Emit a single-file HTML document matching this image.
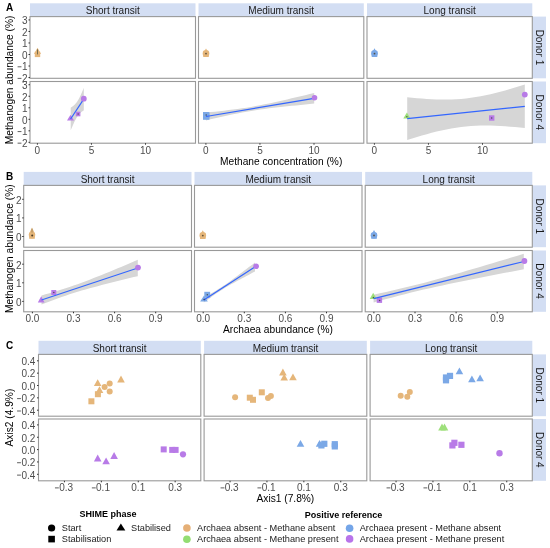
<!DOCTYPE html><html><head><meta charset="utf-8"><style>html,body{margin:0;padding:0;background:#fff;width:550px;height:548px;overflow:hidden}svg{display:block;will-change:transform}text{font-family:"Liberation Sans",sans-serif}</style></head><body><svg width="550" height="548" viewBox="0 0 550 548" font-family="Liberation Sans">
<rect width="550" height="548" fill="#fff"/>
<text x="6.00" y="10.80" font-size="10" fill="#000" text-anchor="start" font-weight="bold" >A</text>
<rect x="30.00" y="3.30" width="165.50" height="13.30" fill="#D3DEF3" />
<text x="112.75" y="14.10" font-size="10" fill="#1A1A1A" text-anchor="middle" font-weight="normal" >Short transit</text>
<rect x="198.50" y="3.30" width="165.30" height="13.30" fill="#D3DEF3" />
<text x="281.15" y="14.10" font-size="10" fill="#1A1A1A" text-anchor="middle" font-weight="normal" >Medium transit</text>
<rect x="367.00" y="3.30" width="165.30" height="13.30" fill="#D3DEF3" />
<text x="449.65" y="14.10" font-size="10" fill="#1A1A1A" text-anchor="middle" font-weight="normal" >Long transit</text>
<rect x="532.30" y="16.60" width="13.70" height="61.70" fill="#D3DEF3" />
<text x="535.60" y="47.45" font-size="10" fill="#1A1A1A" text-anchor="middle" transform="rotate(90 539.20 47.45) translate(3.6 3.6)">Donor 1</text>
<rect x="532.30" y="81.50" width="13.70" height="61.70" fill="#D3DEF3" />
<text x="535.60" y="112.35" font-size="10" fill="#1A1A1A" text-anchor="middle" transform="rotate(90 539.20 112.35) translate(3.6 3.6)">Donor 4</text>
<rect x="30.00" y="16.60" width="165.50" height="61.70" fill="none" stroke="#999999" stroke-width="1.1"/>
<rect x="198.50" y="16.60" width="165.30" height="61.70" fill="none" stroke="#999999" stroke-width="1.1"/>
<rect x="367.00" y="16.60" width="165.30" height="61.70" fill="none" stroke="#999999" stroke-width="1.1"/>
<rect x="30.00" y="81.50" width="165.50" height="61.70" fill="none" stroke="#999999" stroke-width="1.1"/>
<rect x="198.50" y="81.50" width="165.30" height="61.70" fill="none" stroke="#999999" stroke-width="1.1"/>
<rect x="367.00" y="81.50" width="165.30" height="61.70" fill="none" stroke="#999999" stroke-width="1.1"/>
<line x1="28.50" y1="19.94" x2="30.00" y2="19.94" stroke="#333" stroke-width="1"/>
<text x="27.60" y="24.24" font-size="10" fill="#4D4D4D" text-anchor="end" font-weight="normal" >3</text>
<line x1="28.50" y1="31.46" x2="30.00" y2="31.46" stroke="#333" stroke-width="1"/>
<text x="27.60" y="35.76" font-size="10" fill="#4D4D4D" text-anchor="end" font-weight="normal" >2</text>
<line x1="28.50" y1="42.98" x2="30.00" y2="42.98" stroke="#333" stroke-width="1"/>
<text x="27.60" y="47.28" font-size="10" fill="#4D4D4D" text-anchor="end" font-weight="normal" >1</text>
<line x1="28.50" y1="54.50" x2="30.00" y2="54.50" stroke="#333" stroke-width="1"/>
<text x="27.60" y="58.80" font-size="10" fill="#4D4D4D" text-anchor="end" font-weight="normal" >0</text>
<line x1="28.50" y1="66.02" x2="30.00" y2="66.02" stroke="#333" stroke-width="1"/>
<text x="22.04" y="70.32" font-size="10" fill="#4D4D4D" text-anchor="start" font-weight="normal" >1</text>
<rect x="17.59" y="66.37" width="3.85" height="0.90" fill="#4D4D4D" />
<line x1="28.50" y1="77.54" x2="30.00" y2="77.54" stroke="#333" stroke-width="1"/>
<text x="22.04" y="81.84" font-size="10" fill="#4D4D4D" text-anchor="start" font-weight="normal" >2</text>
<rect x="17.59" y="77.89" width="3.85" height="0.90" fill="#4D4D4D" />
<line x1="28.50" y1="84.74" x2="30.00" y2="84.74" stroke="#333" stroke-width="1"/>
<text x="27.60" y="89.04" font-size="10" fill="#4D4D4D" text-anchor="end" font-weight="normal" >3</text>
<line x1="28.50" y1="96.26" x2="30.00" y2="96.26" stroke="#333" stroke-width="1"/>
<text x="27.60" y="100.56" font-size="10" fill="#4D4D4D" text-anchor="end" font-weight="normal" >2</text>
<line x1="28.50" y1="107.78" x2="30.00" y2="107.78" stroke="#333" stroke-width="1"/>
<text x="27.60" y="112.08" font-size="10" fill="#4D4D4D" text-anchor="end" font-weight="normal" >1</text>
<line x1="28.50" y1="119.30" x2="30.00" y2="119.30" stroke="#333" stroke-width="1"/>
<text x="27.60" y="123.60" font-size="10" fill="#4D4D4D" text-anchor="end" font-weight="normal" >0</text>
<line x1="28.50" y1="130.82" x2="30.00" y2="130.82" stroke="#333" stroke-width="1"/>
<text x="22.04" y="135.12" font-size="10" fill="#4D4D4D" text-anchor="start" font-weight="normal" >1</text>
<rect x="17.59" y="131.17" width="3.85" height="0.90" fill="#4D4D4D" />
<line x1="28.50" y1="142.34" x2="30.00" y2="142.34" stroke="#333" stroke-width="1"/>
<text x="22.04" y="146.64" font-size="10" fill="#4D4D4D" text-anchor="start" font-weight="normal" >2</text>
<rect x="17.59" y="142.69" width="3.85" height="0.90" fill="#4D4D4D" />
<line x1="37.40" y1="143.20" x2="37.40" y2="144.70" stroke="#333" stroke-width="1"/>
<text x="37.40" y="153.90" font-size="10" fill="#4D4D4D" text-anchor="middle" font-weight="normal" >0</text>
<line x1="91.45" y1="143.20" x2="91.45" y2="144.70" stroke="#333" stroke-width="1"/>
<text x="91.45" y="153.90" font-size="10" fill="#4D4D4D" text-anchor="middle" font-weight="normal" >5</text>
<line x1="145.50" y1="143.20" x2="145.50" y2="144.70" stroke="#333" stroke-width="1"/>
<text x="145.50" y="153.90" font-size="10" fill="#4D4D4D" text-anchor="middle" font-weight="normal" >10</text>
<line x1="205.90" y1="143.20" x2="205.90" y2="144.70" stroke="#333" stroke-width="1"/>
<text x="205.90" y="153.90" font-size="10" fill="#4D4D4D" text-anchor="middle" font-weight="normal" >0</text>
<line x1="259.95" y1="143.20" x2="259.95" y2="144.70" stroke="#333" stroke-width="1"/>
<text x="259.95" y="153.90" font-size="10" fill="#4D4D4D" text-anchor="middle" font-weight="normal" >5</text>
<line x1="314.00" y1="143.20" x2="314.00" y2="144.70" stroke="#333" stroke-width="1"/>
<text x="314.00" y="153.90" font-size="10" fill="#4D4D4D" text-anchor="middle" font-weight="normal" >10</text>
<line x1="374.40" y1="143.20" x2="374.40" y2="144.70" stroke="#333" stroke-width="1"/>
<text x="374.40" y="153.90" font-size="10" fill="#4D4D4D" text-anchor="middle" font-weight="normal" >0</text>
<line x1="428.45" y1="143.20" x2="428.45" y2="144.70" stroke="#333" stroke-width="1"/>
<text x="428.45" y="153.90" font-size="10" fill="#4D4D4D" text-anchor="middle" font-weight="normal" >5</text>
<line x1="482.50" y1="143.20" x2="482.50" y2="144.70" stroke="#333" stroke-width="1"/>
<text x="482.50" y="153.90" font-size="10" fill="#4D4D4D" text-anchor="middle" font-weight="normal" >10</text>
<text x="281.15" y="164.80" font-size="10.2" fill="#000" text-anchor="middle" font-weight="normal" >Methane concentration (%)</text>
<text x="13" y="79.90" font-size="10.2" fill="#000" text-anchor="middle" transform="rotate(-90 13 79.90)">Methanogen abundance (%)</text>
<text x="6.00" y="179.80" font-size="10" fill="#000" text-anchor="start" font-weight="bold" >B</text>
<rect x="23.70" y="171.90" width="167.80" height="13.50" fill="#D3DEF3" />
<text x="107.60" y="182.70" font-size="10" fill="#1A1A1A" text-anchor="middle" font-weight="normal" >Short transit</text>
<rect x="194.50" y="171.90" width="167.50" height="13.50" fill="#D3DEF3" />
<text x="278.25" y="182.70" font-size="10" fill="#1A1A1A" text-anchor="middle" font-weight="normal" >Medium transit</text>
<rect x="365.20" y="171.90" width="167.10" height="13.50" fill="#D3DEF3" />
<text x="448.75" y="182.70" font-size="10" fill="#1A1A1A" text-anchor="middle" font-weight="normal" >Long transit</text>
<rect x="532.30" y="185.40" width="13.70" height="61.80" fill="#D3DEF3" />
<text x="535.60" y="216.30" font-size="10" fill="#1A1A1A" text-anchor="middle" transform="rotate(90 539.20 216.30) translate(3.6 3.6)">Donor 1</text>
<rect x="532.30" y="250.50" width="13.70" height="61.30" fill="#D3DEF3" />
<text x="535.60" y="281.15" font-size="10" fill="#1A1A1A" text-anchor="middle" transform="rotate(90 539.20 281.15) translate(3.6 3.6)">Donor 4</text>
<rect x="23.70" y="185.40" width="167.80" height="61.80" fill="none" stroke="#999999" stroke-width="1.1"/>
<rect x="194.50" y="185.40" width="167.50" height="61.80" fill="none" stroke="#999999" stroke-width="1.1"/>
<rect x="365.20" y="185.40" width="167.10" height="61.80" fill="none" stroke="#999999" stroke-width="1.1"/>
<rect x="23.70" y="250.50" width="167.80" height="61.30" fill="none" stroke="#999999" stroke-width="1.1"/>
<rect x="194.50" y="250.50" width="167.50" height="61.30" fill="none" stroke="#999999" stroke-width="1.1"/>
<rect x="365.20" y="250.50" width="167.10" height="61.30" fill="none" stroke="#999999" stroke-width="1.1"/>
<line x1="22.20" y1="199.30" x2="23.70" y2="199.30" stroke="#333" stroke-width="1"/>
<text x="21.60" y="203.60" font-size="10" fill="#4D4D4D" text-anchor="end" font-weight="normal" >2</text>
<line x1="22.20" y1="217.90" x2="23.70" y2="217.90" stroke="#333" stroke-width="1"/>
<text x="21.60" y="222.20" font-size="10" fill="#4D4D4D" text-anchor="end" font-weight="normal" >1</text>
<line x1="22.20" y1="236.50" x2="23.70" y2="236.50" stroke="#333" stroke-width="1"/>
<text x="21.60" y="240.80" font-size="10" fill="#4D4D4D" text-anchor="end" font-weight="normal" >0</text>
<line x1="22.20" y1="264.20" x2="23.70" y2="264.20" stroke="#333" stroke-width="1"/>
<text x="21.60" y="268.50" font-size="10" fill="#4D4D4D" text-anchor="end" font-weight="normal" >2</text>
<line x1="22.20" y1="282.80" x2="23.70" y2="282.80" stroke="#333" stroke-width="1"/>
<text x="21.60" y="287.10" font-size="10" fill="#4D4D4D" text-anchor="end" font-weight="normal" >1</text>
<line x1="22.20" y1="301.40" x2="23.70" y2="301.40" stroke="#333" stroke-width="1"/>
<text x="21.60" y="305.70" font-size="10" fill="#4D4D4D" text-anchor="end" font-weight="normal" >0</text>
<line x1="32.40" y1="311.80" x2="32.40" y2="313.30" stroke="#333" stroke-width="1"/>
<text x="32.40" y="322.40" font-size="10" fill="#4D4D4D" text-anchor="middle" font-weight="normal" >0.0</text>
<line x1="73.50" y1="311.80" x2="73.50" y2="313.30" stroke="#333" stroke-width="1"/>
<text x="73.50" y="322.40" font-size="10" fill="#4D4D4D" text-anchor="middle" font-weight="normal" >0.3</text>
<line x1="114.60" y1="311.80" x2="114.60" y2="313.30" stroke="#333" stroke-width="1"/>
<text x="114.60" y="322.40" font-size="10" fill="#4D4D4D" text-anchor="middle" font-weight="normal" >0.6</text>
<line x1="155.70" y1="311.80" x2="155.70" y2="313.30" stroke="#333" stroke-width="1"/>
<text x="155.70" y="322.40" font-size="10" fill="#4D4D4D" text-anchor="middle" font-weight="normal" >0.9</text>
<line x1="203.20" y1="311.80" x2="203.20" y2="313.30" stroke="#333" stroke-width="1"/>
<text x="203.20" y="322.40" font-size="10" fill="#4D4D4D" text-anchor="middle" font-weight="normal" >0.0</text>
<line x1="244.30" y1="311.80" x2="244.30" y2="313.30" stroke="#333" stroke-width="1"/>
<text x="244.30" y="322.40" font-size="10" fill="#4D4D4D" text-anchor="middle" font-weight="normal" >0.3</text>
<line x1="285.40" y1="311.80" x2="285.40" y2="313.30" stroke="#333" stroke-width="1"/>
<text x="285.40" y="322.40" font-size="10" fill="#4D4D4D" text-anchor="middle" font-weight="normal" >0.6</text>
<line x1="326.50" y1="311.80" x2="326.50" y2="313.30" stroke="#333" stroke-width="1"/>
<text x="326.50" y="322.40" font-size="10" fill="#4D4D4D" text-anchor="middle" font-weight="normal" >0.9</text>
<line x1="373.90" y1="311.80" x2="373.90" y2="313.30" stroke="#333" stroke-width="1"/>
<text x="373.90" y="322.40" font-size="10" fill="#4D4D4D" text-anchor="middle" font-weight="normal" >0.0</text>
<line x1="415.00" y1="311.80" x2="415.00" y2="313.30" stroke="#333" stroke-width="1"/>
<text x="415.00" y="322.40" font-size="10" fill="#4D4D4D" text-anchor="middle" font-weight="normal" >0.3</text>
<line x1="456.10" y1="311.80" x2="456.10" y2="313.30" stroke="#333" stroke-width="1"/>
<text x="456.10" y="322.40" font-size="10" fill="#4D4D4D" text-anchor="middle" font-weight="normal" >0.6</text>
<line x1="497.20" y1="311.80" x2="497.20" y2="313.30" stroke="#333" stroke-width="1"/>
<text x="497.20" y="322.40" font-size="10" fill="#4D4D4D" text-anchor="middle" font-weight="normal" >0.9</text>
<text x="278.00" y="333.30" font-size="10.2" fill="#000" text-anchor="middle" font-weight="normal" >Archaea abundance (%)</text>
<text x="13" y="248.60" font-size="10.2" fill="#000" text-anchor="middle" transform="rotate(-90 13 248.60)">Methanogen abundance (%)</text>
<text x="6.00" y="348.80" font-size="10" fill="#000" text-anchor="start" font-weight="bold" >C</text>
<rect x="38.50" y="340.80" width="162.30" height="13.60" fill="#D3DEF3" />
<text x="119.65" y="351.60" font-size="10" fill="#1A1A1A" text-anchor="middle" font-weight="normal" >Short transit</text>
<rect x="204.10" y="340.80" width="162.70" height="13.60" fill="#D3DEF3" />
<text x="285.45" y="351.60" font-size="10" fill="#1A1A1A" text-anchor="middle" font-weight="normal" >Medium transit</text>
<rect x="370.10" y="340.80" width="162.20" height="13.60" fill="#D3DEF3" />
<text x="451.20" y="351.60" font-size="10" fill="#1A1A1A" text-anchor="middle" font-weight="normal" >Long transit</text>
<rect x="532.30" y="354.40" width="13.70" height="61.80" fill="#D3DEF3" />
<text x="535.60" y="385.30" font-size="10" fill="#1A1A1A" text-anchor="middle" transform="rotate(90 539.20 385.30) translate(3.6 3.6)">Donor 1</text>
<rect x="532.30" y="419.00" width="13.70" height="61.80" fill="#D3DEF3" />
<text x="535.60" y="449.90" font-size="10" fill="#1A1A1A" text-anchor="middle" transform="rotate(90 539.20 449.90) translate(3.6 3.6)">Donor 4</text>
<rect x="38.50" y="354.40" width="162.30" height="61.80" fill="none" stroke="#999999" stroke-width="1.1"/>
<rect x="204.10" y="354.40" width="162.70" height="61.80" fill="none" stroke="#999999" stroke-width="1.1"/>
<rect x="370.10" y="354.40" width="162.20" height="61.80" fill="none" stroke="#999999" stroke-width="1.1"/>
<rect x="38.50" y="419.00" width="162.30" height="61.80" fill="none" stroke="#999999" stroke-width="1.1"/>
<rect x="204.10" y="419.00" width="162.70" height="61.80" fill="none" stroke="#999999" stroke-width="1.1"/>
<rect x="370.10" y="419.00" width="162.20" height="61.80" fill="none" stroke="#999999" stroke-width="1.1"/>
<line x1="37.00" y1="360.80" x2="38.50" y2="360.80" stroke="#333" stroke-width="1"/>
<text x="35.40" y="365.10" font-size="10" fill="#4D4D4D" text-anchor="end" font-weight="normal" >0.4</text>
<line x1="37.00" y1="373.15" x2="38.50" y2="373.15" stroke="#333" stroke-width="1"/>
<text x="35.40" y="377.45" font-size="10" fill="#4D4D4D" text-anchor="end" font-weight="normal" >0.2</text>
<line x1="37.00" y1="385.50" x2="38.50" y2="385.50" stroke="#333" stroke-width="1"/>
<text x="35.40" y="389.80" font-size="10" fill="#4D4D4D" text-anchor="end" font-weight="normal" >0.0</text>
<line x1="37.00" y1="397.85" x2="38.50" y2="397.85" stroke="#333" stroke-width="1"/>
<text x="21.50" y="402.15" font-size="10" fill="#4D4D4D" text-anchor="start" font-weight="normal" >0.2</text>
<rect x="17.05" y="398.20" width="3.85" height="0.90" fill="#4D4D4D" />
<line x1="37.00" y1="410.20" x2="38.50" y2="410.20" stroke="#333" stroke-width="1"/>
<text x="21.50" y="414.50" font-size="10" fill="#4D4D4D" text-anchor="start" font-weight="normal" >0.4</text>
<rect x="17.05" y="410.55" width="3.85" height="0.90" fill="#4D4D4D" />
<line x1="37.00" y1="424.90" x2="38.50" y2="424.90" stroke="#333" stroke-width="1"/>
<text x="35.40" y="429.20" font-size="10" fill="#4D4D4D" text-anchor="end" font-weight="normal" >0.4</text>
<line x1="37.00" y1="437.25" x2="38.50" y2="437.25" stroke="#333" stroke-width="1"/>
<text x="35.40" y="441.55" font-size="10" fill="#4D4D4D" text-anchor="end" font-weight="normal" >0.2</text>
<line x1="37.00" y1="449.60" x2="38.50" y2="449.60" stroke="#333" stroke-width="1"/>
<text x="35.40" y="453.90" font-size="10" fill="#4D4D4D" text-anchor="end" font-weight="normal" >0.0</text>
<line x1="37.00" y1="461.95" x2="38.50" y2="461.95" stroke="#333" stroke-width="1"/>
<text x="21.50" y="466.25" font-size="10" fill="#4D4D4D" text-anchor="start" font-weight="normal" >0.2</text>
<rect x="17.05" y="462.30" width="3.85" height="0.90" fill="#4D4D4D" />
<line x1="37.00" y1="474.30" x2="38.50" y2="474.30" stroke="#333" stroke-width="1"/>
<text x="21.50" y="478.60" font-size="10" fill="#4D4D4D" text-anchor="start" font-weight="normal" >0.4</text>
<rect x="17.05" y="474.65" width="3.85" height="0.90" fill="#4D4D4D" />
<line x1="64.45" y1="480.80" x2="64.45" y2="482.30" stroke="#333" stroke-width="1"/>
<text x="59.15" y="491.40" font-size="10" fill="#4D4D4D" text-anchor="start" font-weight="normal" >0.3</text>
<rect x="54.95" y="487.45" width="3.85" height="0.90" fill="#4D4D4D" />
<line x1="101.35" y1="480.80" x2="101.35" y2="482.30" stroke="#333" stroke-width="1"/>
<text x="96.05" y="491.40" font-size="10" fill="#4D4D4D" text-anchor="start" font-weight="normal" >0.1</text>
<rect x="91.85" y="487.45" width="3.85" height="0.90" fill="#4D4D4D" />
<line x1="138.25" y1="480.80" x2="138.25" y2="482.30" stroke="#333" stroke-width="1"/>
<text x="138.25" y="491.40" font-size="10" fill="#4D4D4D" text-anchor="middle" font-weight="normal" >0.1</text>
<line x1="175.15" y1="480.80" x2="175.15" y2="482.30" stroke="#333" stroke-width="1"/>
<text x="175.15" y="491.40" font-size="10" fill="#4D4D4D" text-anchor="middle" font-weight="normal" >0.3</text>
<line x1="230.05" y1="480.80" x2="230.05" y2="482.30" stroke="#333" stroke-width="1"/>
<text x="224.75" y="491.40" font-size="10" fill="#4D4D4D" text-anchor="start" font-weight="normal" >0.3</text>
<rect x="220.55" y="487.45" width="3.85" height="0.90" fill="#4D4D4D" />
<line x1="266.95" y1="480.80" x2="266.95" y2="482.30" stroke="#333" stroke-width="1"/>
<text x="261.65" y="491.40" font-size="10" fill="#4D4D4D" text-anchor="start" font-weight="normal" >0.1</text>
<rect x="257.45" y="487.45" width="3.85" height="0.90" fill="#4D4D4D" />
<line x1="303.85" y1="480.80" x2="303.85" y2="482.30" stroke="#333" stroke-width="1"/>
<text x="303.85" y="491.40" font-size="10" fill="#4D4D4D" text-anchor="middle" font-weight="normal" >0.1</text>
<line x1="340.75" y1="480.80" x2="340.75" y2="482.30" stroke="#333" stroke-width="1"/>
<text x="340.75" y="491.40" font-size="10" fill="#4D4D4D" text-anchor="middle" font-weight="normal" >0.3</text>
<line x1="396.05" y1="480.80" x2="396.05" y2="482.30" stroke="#333" stroke-width="1"/>
<text x="390.75" y="491.40" font-size="10" fill="#4D4D4D" text-anchor="start" font-weight="normal" >0.3</text>
<rect x="386.55" y="487.45" width="3.85" height="0.90" fill="#4D4D4D" />
<line x1="432.95" y1="480.80" x2="432.95" y2="482.30" stroke="#333" stroke-width="1"/>
<text x="427.65" y="491.40" font-size="10" fill="#4D4D4D" text-anchor="start" font-weight="normal" >0.1</text>
<rect x="423.45" y="487.45" width="3.85" height="0.90" fill="#4D4D4D" />
<line x1="469.85" y1="480.80" x2="469.85" y2="482.30" stroke="#333" stroke-width="1"/>
<text x="469.85" y="491.40" font-size="10" fill="#4D4D4D" text-anchor="middle" font-weight="normal" >0.1</text>
<line x1="506.75" y1="480.80" x2="506.75" y2="482.30" stroke="#333" stroke-width="1"/>
<text x="506.75" y="491.40" font-size="10" fill="#4D4D4D" text-anchor="middle" font-weight="normal" >0.3</text>
<text x="285.40" y="501.50" font-size="10.2" fill="#000" text-anchor="middle" font-weight="normal" >Axis1 (7.8%)</text>
<text x="13" y="417.60" font-size="10.2" fill="#000" text-anchor="middle" transform="rotate(-90 13 417.60)">Axis2 (4.9%)</text>
<rect x="34.80" y="51.70" width="5.40" height="5.40" fill="#E5B67A"/>
<polygon points="37.50,47.80 34.00,54.00 41.00,54.00" fill="#E5B67A"/>
<line x1="37.50" y1="49.30" x2="37.50" y2="54.40" stroke="#5a5a40" stroke-width="0.8"/>
<circle cx="206.00" cy="53.40" r="3.30" fill="#E5B67A"/>
<rect x="203.20" y="51.40" width="5.60" height="5.60" fill="#E5B67A"/>
<polygon points="206.00,48.60 203.00,53.80 209.00,53.80" fill="#E5B67A"/>
<circle cx="206.00" cy="53.60" r="0.9" fill="#4a4030" fill-opacity="0.85"/>
<circle cx="374.50" cy="53.40" r="3.30" fill="#7BA8E6"/>
<rect x="371.70" y="51.40" width="5.60" height="5.60" fill="#7BA8E6"/>
<polygon points="374.50,48.20 371.50,53.80 377.50,53.80" fill="#7BA8E6"/>
<circle cx="374.50" cy="53.60" r="0.9" fill="#4a4030" fill-opacity="0.85"/>
<polygon points="70.70,107.66 71.25,107.34 71.79,106.99 72.34,106.62 72.88,106.22 73.43,105.78 73.97,105.31 74.52,104.80 75.07,104.24 75.61,103.62 76.16,102.96 76.70,102.23 77.25,101.43 77.80,100.58 78.34,99.66 78.89,98.68 79.43,97.65 79.98,96.56 80.53,95.42 81.07,94.24 81.62,93.03 82.16,91.77 82.71,90.49 83.25,89.19 83.80,87.86 83.80,110.34 83.25,110.67 82.71,111.02 82.16,111.40 81.62,111.81 81.07,112.25 80.53,112.73 79.98,113.25 79.43,113.82 78.89,114.44 78.34,115.12 77.80,115.86 77.25,116.67 76.70,117.53 76.16,118.46 75.61,119.45 75.07,120.50 74.52,121.59 73.97,122.74 73.43,123.92 72.88,125.15 72.34,126.41 71.79,127.69 71.25,129.00 70.70,130.34" fill="#D6D6D6"/>
<rect x="75.80" y="111.70" width="4.60" height="4.60" fill="#B87BE7"/>
<polygon points="70.50,114.80 67.00,120.60 74.00,120.60" fill="#B87BE7"/>
<line x1="70.6" y1="119.0" x2="83.7" y2="99.2" stroke="#3366FF" stroke-width="1.2"/>
<circle cx="83.80" cy="98.70" r="2.90" fill="#B87BE7"/>
<polygon points="206.00,112.59 210.51,112.12 215.02,111.64 219.53,111.15 224.03,110.65 228.54,110.12 233.05,109.57 237.56,108.98 242.07,108.34 246.57,107.66 251.08,106.91 255.59,106.11 260.10,105.26 264.61,104.35 269.12,103.41 273.62,102.43 278.13,101.43 282.64,100.41 287.15,99.38 291.66,98.33 296.17,97.28 300.68,96.21 305.18,95.15 309.69,94.07 314.20,93.00 314.20,103.60 309.69,104.04 305.18,104.49 300.68,104.94 296.17,105.39 291.66,105.85 287.15,106.32 282.64,106.81 278.13,107.30 273.62,107.82 269.12,108.36 264.61,108.93 260.10,109.54 255.59,110.20 251.08,110.92 246.57,111.69 242.07,112.52 237.56,113.41 233.05,114.33 228.54,115.30 224.03,116.29 219.53,117.30 215.02,118.32 210.51,119.36 206.00,120.41" fill="#D6D6D6"/>
<rect x="203.00" y="112.00" width="6.40" height="6.40" fill="#7BA8E6"/>
<rect x="203.00" y="113.40" width="6.40" height="6.40" fill="#7BA8E6"/>
<line x1="206" y1="116.5" x2="314" y2="98.3" stroke="#3366FF" stroke-width="1.2"/>
<circle cx="314.50" cy="97.70" r="2.80" fill="#B87BE7"/>
<polygon points="407.20,97.23 412.10,97.73 417.00,98.19 421.90,98.60 426.80,98.95 431.70,99.23 436.60,99.43 441.50,99.55 446.40,99.57 451.30,99.47 456.20,99.26 461.10,98.92 466.00,98.45 470.90,97.84 475.80,97.10 480.70,96.24 485.60,95.26 490.50,94.18 495.40,93.00 500.30,91.74 505.20,90.40 510.10,89.01 515.00,87.55 519.90,86.05 524.80,84.51 524.80,128.09 519.90,127.58 515.00,127.10 510.10,126.67 505.20,126.30 500.30,125.99 495.40,125.75 490.50,125.59 485.60,125.54 480.70,125.58 475.80,125.75 470.90,126.03 466.00,126.45 461.10,127.00 456.20,127.69 451.30,128.50 446.40,129.43 441.50,130.47 436.60,131.62 431.70,132.85 426.80,134.15 421.90,135.53 417.00,136.96 412.10,138.44 407.20,139.97" fill="#D6D6D6"/>
<polygon points="406.90,112.40 403.30,118.60 410.50,118.60" fill="#9EE07B"/>
<rect x="489.00" y="115.30" width="5.40" height="5.40" fill="#B87BE7"/>
<line x1="407.2" y1="118.6" x2="524.8" y2="106.3" stroke="#3366FF" stroke-width="1.2"/>
<circle cx="524.80" cy="94.60" r="2.90" fill="#B87BE7"/>
<rect x="29.20" y="233.20" width="5.60" height="5.60" fill="#E5B67A"/>
<circle cx="32.00" cy="235.00" r="3.20" fill="#E5B67A"/>
<polygon points="32.00,227.40 28.70,234.50 35.30,234.50" fill="#E5B67A"/>
<line x1="32.0" y1="228.6" x2="32.0" y2="232.5" stroke="#7a6a45" stroke-width="0.7" stroke-opacity="0.8"/>
<circle cx="32.2" cy="235.6" r="1.0" fill="#3a3020" fill-opacity="0.9"/>
<circle cx="202.80" cy="235.40" r="3.30" fill="#E5B67A"/>
<rect x="200.00" y="233.40" width="5.60" height="5.60" fill="#E5B67A"/>
<polygon points="202.80,230.20 199.80,235.80 205.80,235.80" fill="#E5B67A"/>
<circle cx="202.80" cy="235.60" r="0.9" fill="#4a4030" fill-opacity="0.85"/>
<circle cx="374.00" cy="235.20" r="3.30" fill="#7BA8E6"/>
<rect x="371.20" y="233.20" width="5.60" height="5.60" fill="#7BA8E6"/>
<polygon points="374.00,230.00 371.00,235.60 377.00,235.60" fill="#7BA8E6"/>
<circle cx="374.00" cy="235.40" r="0.9" fill="#4a4030" fill-opacity="0.85"/>
<polygon points="41.50,295.39 45.51,294.30 49.52,293.17 53.54,292.02 57.55,290.82 61.56,289.59 65.58,288.30 69.59,286.98 73.60,285.60 77.61,284.18 81.62,282.72 85.64,281.21 89.65,279.68 93.66,278.11 97.68,276.52 101.69,274.91 105.70,273.28 109.71,271.64 113.73,269.98 117.74,268.31 121.75,266.63 125.76,264.95 129.78,263.25 133.79,261.55 137.80,259.85 137.80,276.15 133.79,277.11 129.78,278.08 125.76,279.05 121.75,280.04 117.74,281.02 113.73,282.02 109.71,283.03 105.70,284.05 101.69,285.09 97.68,286.14 93.66,287.22 89.65,288.32 85.64,289.45 81.62,290.62 77.61,291.82 73.60,293.07 69.59,294.36 65.58,295.70 61.56,297.08 57.55,298.51 53.54,299.98 49.52,301.49 45.51,303.03 41.50,304.61" fill="#D6D6D6"/>
<polygon points="41.20,296.30 37.80,302.50 44.60,302.50" fill="#B87BE7"/>
<rect x="51.30" y="290.00" width="5.00" height="5.00" fill="#B87BE7"/>
<line x1="41.5" y1="300" x2="137.8" y2="268" stroke="#3366FF" stroke-width="1.2"/>
<circle cx="138.00" cy="267.60" r="2.90" fill="#B87BE7"/>
<polygon points="203.80,297.39 205.93,296.23 208.07,295.06 210.20,293.87 212.33,292.66 214.47,291.43 216.60,290.17 218.73,288.86 220.87,287.52 223.00,286.12 225.13,284.68 227.27,283.20 229.40,281.68 231.53,280.14 233.67,278.58 235.80,277.00 237.93,275.42 240.07,273.82 242.20,272.21 244.33,270.60 246.47,268.99 248.60,267.37 250.73,265.75 252.87,264.13 255.00,262.50 255.00,271.50 252.87,272.62 250.73,273.75 248.60,274.88 246.47,276.01 244.33,277.15 242.20,278.29 240.07,279.43 237.93,280.58 235.80,281.75 233.67,282.92 231.53,284.11 229.40,285.32 227.27,286.55 225.13,287.82 223.00,289.13 220.87,290.48 218.73,291.89 216.60,293.33 214.47,294.82 212.33,296.34 210.20,297.88 208.07,299.44 205.93,301.02 203.80,302.61" fill="#D6D6D6"/>
<rect x="204.30" y="291.80" width="5.80" height="5.80" fill="#7BA8E6"/>
<polygon points="204.00,295.60 200.20,301.60 207.80,301.60" fill="#7BA8E6"/>
<line x1="203.8" y1="300" x2="254.8" y2="267.1" stroke="#3366FF" stroke-width="1.2"/>
<circle cx="256.10" cy="266.20" r="2.80" fill="#B87BE7"/>
<polygon points="373.60,294.66 379.86,293.32 386.12,291.95 392.38,290.54 398.63,289.10 404.89,287.62 411.15,286.08 417.41,284.51 423.67,282.88 429.93,281.22 436.18,279.52 442.44,277.79 448.70,276.02 454.96,274.24 461.22,272.43 467.47,270.61 473.73,268.77 479.99,266.92 486.25,265.06 492.51,263.19 498.77,261.32 505.02,259.44 511.28,257.55 517.54,255.66 523.80,253.76 523.80,269.24 517.54,270.43 511.28,271.63 505.02,272.84 498.77,274.05 492.51,275.27 486.25,276.49 479.99,277.72 473.73,278.96 467.47,280.22 461.22,281.49 454.96,282.77 448.70,284.08 442.44,285.41 436.18,286.76 429.93,288.15 423.67,289.58 417.41,291.05 411.15,292.57 404.89,294.13 398.63,295.73 392.38,297.38 386.12,299.07 379.86,300.79 373.60,302.54" fill="#D6D6D6"/>
<polygon points="373.20,292.70 369.70,299.10 376.70,299.10" fill="#9EE07B"/>
<rect x="376.70" y="297.50" width="5.40" height="5.40" fill="#B87BE7"/>
<line x1="373.6" y1="298.6" x2="524" y2="261.5" stroke="#3366FF" stroke-width="1.2"/>
<circle cx="524.40" cy="261.00" r="2.90" fill="#B87BE7"/>
<circle cx="78.10" cy="114.00" r="0.75" fill="#3a3a3a" fill-opacity="0.8"/>
<circle cx="206.20" cy="115.10" r="0.75" fill="#3a3a3a" fill-opacity="0.8"/>
<circle cx="491.70" cy="118.00" r="0.75" fill="#3a3a3a" fill-opacity="0.8"/>
<circle cx="406.90" cy="116.80" r="0.75" fill="#3a3a3a" fill-opacity="0.8"/>
<circle cx="53.80" cy="292.50" r="0.75" fill="#3a3a3a" fill-opacity="0.8"/>
<circle cx="207.30" cy="294.80" r="0.75" fill="#3a3a3a" fill-opacity="0.8"/>
<circle cx="204.10" cy="299.50" r="0.75" fill="#3a3a3a" fill-opacity="0.8"/>
<circle cx="373.40" cy="297.50" r="0.75" fill="#3a3a3a" fill-opacity="0.8"/>
<circle cx="379.60" cy="300.50" r="0.75" fill="#3a3a3a" fill-opacity="0.8"/>
<polygon points="121.00,375.60 117.20,382.40 124.80,382.40" fill="#E5B67A"/>
<polygon points="97.70,379.30 93.90,386.10 101.50,386.10" fill="#E5B67A"/>
<polygon points="99.50,386.20 95.70,393.00 103.30,393.00" fill="#E5B67A"/>
<rect x="94.90" y="391.20" width="6.00" height="6.00" fill="#E5B67A"/>
<rect x="88.40" y="398.30" width="6.00" height="6.00" fill="#E5B67A"/>
<circle cx="104.60" cy="386.90" r="3.00" fill="#E5B67A"/>
<circle cx="109.70" cy="383.60" r="3.00" fill="#E5B67A"/>
<circle cx="109.70" cy="391.60" r="3.00" fill="#E5B67A"/>
<polygon points="97.70,454.60 93.90,461.40 101.50,461.40" fill="#B87BE7"/>
<polygon points="106.10,457.50 102.30,464.30 109.90,464.30" fill="#B87BE7"/>
<polygon points="114.10,452.10 110.30,458.90 117.90,458.90" fill="#B87BE7"/>
<rect x="160.70" y="446.40" width="6.00" height="6.00" fill="#B87BE7"/>
<rect x="169.20" y="446.90" width="6.00" height="6.00" fill="#B87BE7"/>
<rect x="172.60" y="446.90" width="6.00" height="6.00" fill="#B87BE7"/>
<circle cx="183.00" cy="454.30" r="3.10" fill="#B87BE7"/>
<circle cx="235.10" cy="397.30" r="3.00" fill="#E5B67A"/>
<rect x="246.80" y="394.70" width="6.00" height="6.00" fill="#E5B67A"/>
<rect x="250.00" y="396.80" width="6.00" height="6.00" fill="#E5B67A"/>
<rect x="258.80" y="389.30" width="6.00" height="6.00" fill="#E5B67A"/>
<circle cx="268.00" cy="398.10" r="3.00" fill="#E5B67A"/>
<circle cx="270.90" cy="396.00" r="3.00" fill="#E5B67A"/>
<polygon points="284.20,373.80 280.40,380.60 288.00,380.60" fill="#E5B67A"/>
<polygon points="282.90,368.60 279.10,375.40 286.70,375.40" fill="#E5B67A"/>
<polygon points="293.00,373.40 289.20,380.20 296.80,380.20" fill="#E5B67A"/>
<polygon points="300.50,440.00 296.70,446.80 304.30,446.80" fill="#7BA8E6"/>
<polygon points="319.60,440.00 315.80,446.80 323.40,446.80" fill="#7BA8E6"/>
<rect x="318.30" y="442.30" width="6.20" height="6.20" fill="#7BA8E6"/>
<rect x="321.20" y="440.70" width="6.20" height="6.20" fill="#7BA8E6"/>
<rect x="331.70" y="441.10" width="6.20" height="6.20" fill="#7BA8E6"/>
<rect x="331.70" y="443.30" width="6.20" height="6.20" fill="#7BA8E6"/>
<circle cx="400.70" cy="395.70" r="3.00" fill="#E5B67A"/>
<circle cx="407.30" cy="396.70" r="3.00" fill="#E5B67A"/>
<circle cx="409.80" cy="392.10" r="3.00" fill="#E5B67A"/>
<rect x="446.90" y="372.80" width="6.20" height="6.20" fill="#7BA8E6"/>
<rect x="442.90" y="374.40" width="6.20" height="6.20" fill="#7BA8E6"/>
<rect x="442.90" y="377.20" width="6.20" height="6.20" fill="#7BA8E6"/>
<polygon points="459.40,367.40 455.60,374.20 463.20,374.20" fill="#7BA8E6"/>
<polygon points="471.90,375.50 468.10,382.30 475.70,382.30" fill="#7BA8E6"/>
<polygon points="480.10,374.50 476.30,381.30 483.90,381.30" fill="#7BA8E6"/>
<polygon points="442.00,423.60 438.20,430.40 445.80,430.40" fill="#9EE07B"/>
<polygon points="444.50,423.60 440.70,430.40 448.30,430.40" fill="#9EE07B"/>
<rect x="451.30" y="439.70" width="6.20" height="6.20" fill="#B87BE7"/>
<rect x="449.30" y="442.30" width="6.20" height="6.20" fill="#B87BE7"/>
<rect x="458.30" y="441.70" width="6.20" height="6.20" fill="#B87BE7"/>
<circle cx="499.50" cy="453.20" r="3.20" fill="#B87BE7"/>
<text x="79.60" y="517.20" font-size="9" fill="#000" text-anchor="start" font-weight="bold" >SHIME phase</text>
<circle cx="51.60" cy="528.00" r="3.60" fill="#000"/>
<rect x="48.30" y="535.80" width="6.60" height="6.60" fill="#000"/>
<text x="61.80" y="531.40" font-size="9.2" fill="#1A1A1A" text-anchor="start" font-weight="normal" >Start</text>
<text x="61.80" y="542.30" font-size="9.2" fill="#1A1A1A" text-anchor="start" font-weight="normal" >Stabilisation</text>
<polygon points="120.90,523.60 116.50,530.40 125.30,530.40" fill="#000"/>
<text x="131.10" y="531.00" font-size="9.2" fill="#1A1A1A" text-anchor="start" font-weight="normal" >Stabilised</text>
<text x="304.70" y="517.60" font-size="9" fill="#000" text-anchor="start" font-weight="bold" >Positive reference</text>
<circle cx="186.90" cy="528.00" r="3.80" fill="#E5AF76"/>
<circle cx="186.90" cy="539.20" r="3.80" fill="#93DD72"/>
<text x="197.00" y="531.40" font-size="9.2" fill="#1A1A1A" text-anchor="start" font-weight="normal" >Archaea absent - Methane absent</text>
<text x="197.00" y="542.30" font-size="9.2" fill="#1A1A1A" text-anchor="start" font-weight="normal" >Archaea absent - Methane present</text>
<circle cx="349.60" cy="528.20" r="3.80" fill="#74A5E8"/>
<circle cx="349.60" cy="538.90" r="3.80" fill="#B874EA"/>
<text x="359.70" y="531.40" font-size="9.2" fill="#1A1A1A" text-anchor="start" font-weight="normal" >Archaea present - Methane absent</text>
<text x="359.70" y="542.30" font-size="9.2" fill="#1A1A1A" text-anchor="start" font-weight="normal" >Archaea present - Methane present</text>
</svg></body></html>
